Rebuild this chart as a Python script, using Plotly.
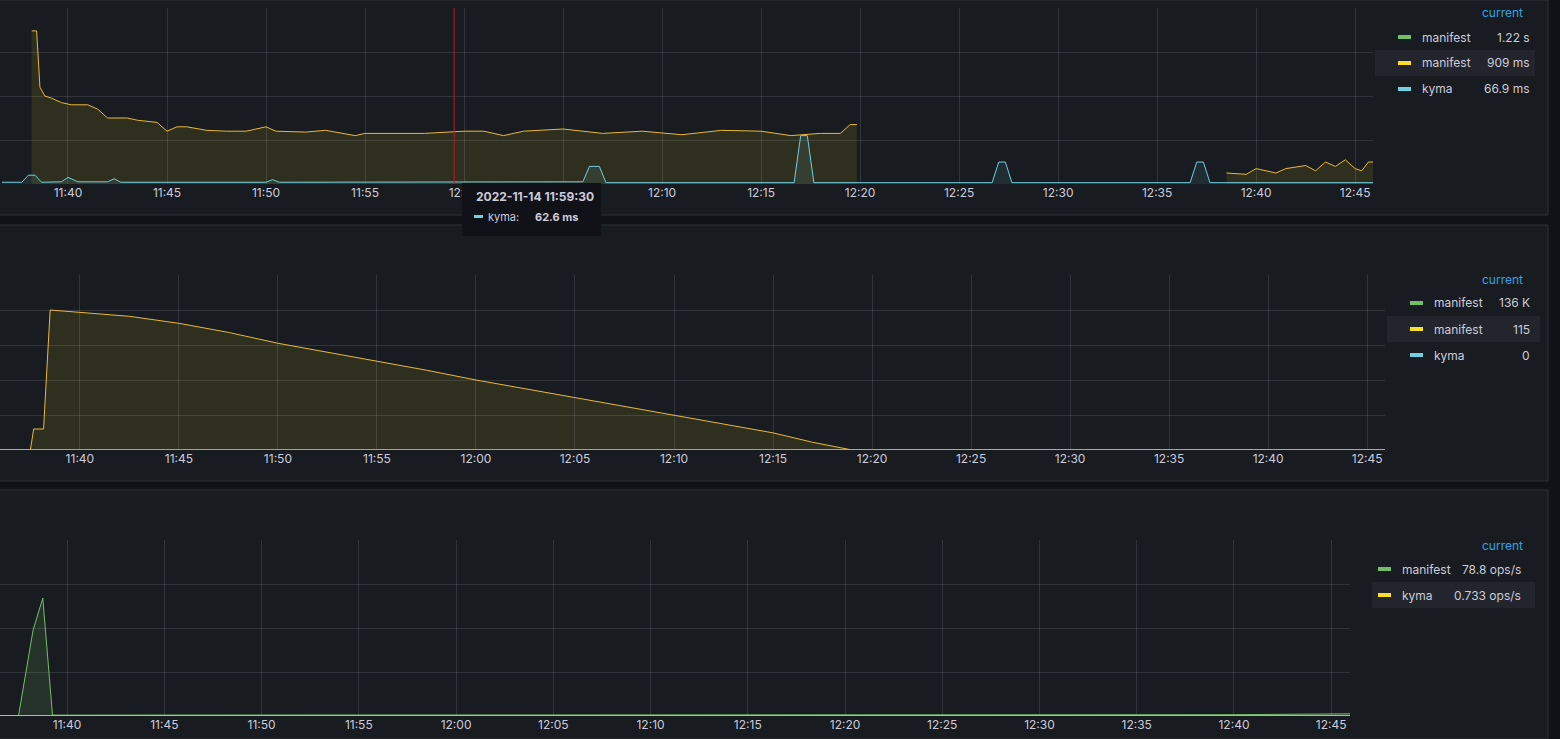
import plotly.graph_objects as go

W, H = 1560, 739
DAY = "2022-11-14 "

# ---- data (values in grid units) ----
lat_yellow_t = ["11:38:10", "11:38:25", "11:38:35", "11:38:50", "11:39:10", "11:39:40", "11:40:10", "11:41:00",
                "11:41:30", "11:42:00", "11:43:00", "11:43:30", "11:44:30", "11:45:00", "11:45:30", "11:46:00",
                "11:47:00", "11:48:00", "11:49:00", "11:50:00", "11:50:30", "11:52:00", "11:53:00", "11:54:30",
                "11:55:00", "11:58:00", "12:00:00", "12:01:00", "12:02:00", "12:03:00", "12:05:00", "12:07:00",
                "12:09:00", "12:11:00", "12:13:00", "12:15:00", "12:16:30", "12:18:00", "12:19:00", "12:19:30",
                "12:19:50"]
lat_yellow_v = [3.48, 3.48, 2.2, 2.0, 1.95, 1.85, 1.8, 1.8,
                1.7, 1.5, 1.5, 1.45, 1.4, 1.2, 1.3, 1.3,
                1.22, 1.2, 1.2, 1.3, 1.2, 1.18, 1.22, 1.1,
                1.15, 1.15, 1.2, 1.2, 1.1, 1.2, 1.25, 1.15,
                1.2, 1.12, 1.22, 1.2, 1.1, 1.15, 1.15, 1.35,
                1.35]
lat_yellow2_t = ["12:38:30", "12:39:30", "12:40:00", "12:41:00", "12:41:30", "12:42:30",
                 "12:43:00", "12:43:30", "12:44:00", "12:44:30", "12:45:00", "12:45:20", "12:45:40", "12:45:54"]
lat_yellow2_v = [0.25, 0.22, 0.35, 0.25, 0.35, 0.42,
                 0.3, 0.5, 0.4, 0.55, 0.35, 0.3, 0.5, 0.5]
lat_cyan_t = ["11:36:40", "11:37:40", "11:38:00", "11:38:20", "11:38:40", "11:39:40", "11:40:00", "11:40:30",
              "11:42:00", "11:42:20", "11:42:40", "11:50:00", "11:50:20", "11:50:40", "12:06:00", "12:06:20",
              "12:06:50", "12:07:10", "12:16:40", "12:17:00", "12:17:20", "12:17:40", "12:26:40", "12:27:00",
              "12:27:20", "12:27:40", "12:36:40", "12:37:00", "12:37:20", "12:37:40", "12:45:54"]
lat_cyan_v = [0.04, 0.04, 0.2, 0.2, 0.04, 0.05, 0.15, 0.05,
              0.05, 0.12, 0.04, 0.04, 0.1, 0.04, 0.05, 0.4,
              0.4, 0.03, 0.03, 1.1, 1.1, 0.03, 0.03, 0.5,
              0.5, 0.03, 0.03, 0.5, 0.5, 0.03, 0.03]

q_yellow_t = ["11:35:58", "11:37:30", "11:37:40", "11:38:10", "11:38:30", "11:40:00", "11:42:30", "11:45:00",
              "11:47:30", "11:50:00", "11:52:30", "11:55:00", "11:57:30", "12:00:00", "12:02:30", "12:05:00",
              "12:07:30", "12:10:00", "12:12:30", "12:15:00", "12:17:00", "12:19:00", "12:45:54"]
q_yellow_v = [0, 0, 0.6, 0.6, 4.0, 3.94, 3.82, 3.62, 3.36, 3.05, 2.8, 2.55, 2.28, 2.0, 1.75, 1.5,
              1.26, 1.0, 0.76, 0.49, 0.22, 0.0, 0]
q_cyan_t = ["11:35:58", "12:45:54"]
q_cyan_v = [0.01, 0.01]

ops_green_t = ["11:36:33", "11:37:30", "11:38:15", "11:38:45", "11:39:15", "12:40:00", "12:45:58"]
ops_green_v = [0, 0, 1.95, 2.68, 0.02, 0.03, 0.05]
ops_yellow_t = ["11:36:33", "12:45:58"]
ops_yellow_v = [0.01, 0.01]

legend1 = [("manifest", "1.22 s"), ("manifest", "909 ms"), ("kyma", "66.9 ms")]
legend2 = [("manifest", "136 K"), ("manifest", "115"), ("kyma", "0")]
legend3 = [("manifest", "78.8 ops/s"), ("kyma", "0.733 ops/s")]

GREEN, YELLOW, CYAN = "#73bf69", "#fade2a", "#6ed0e0"
YEL_LINE = "#eab839"
TXT = "#ccccdc"
GRID = "rgba(204,204,220,0.15)"


def px(x):
    return x / W


def py(y):
    return 1 - y / H


def ts(lst):
    return [DAY + t for t in lst]


fig = go.Figure()

panels = [
    dict(ax="", xr=1373, top=8, bot=184, rng=["11:36:34", "12:45:54"], ymax=4,
         pbox=(0, 215), leg=legend1, cols=[GREEN, YELLOW, CYAN], ly=13, lx=1398, hl0=1375, hl1=1535, vx=1532),
    dict(ax="2", xr=1385, top=275, bot=450, rng=["11:35:58", "12:45:54"], ymax=5,
         pbox=(225, 481), leg=legend2, cols=[GREEN, YELLOW, CYAN], ly=279, lx=1410, hl0=1387, hl1=1540, vx=1532),
    dict(ax="3", xr=1350, top=540, bot=716, rng=["11:36:33", "12:45:58"], ymax=4,
         pbox=(490, 739), leg=legend3, cols=[GREEN, YELLOW], ly=545, lx=1378, hl0=1372, hl1=1535, vx=1523),
]

shapes = []
annotations = []
for p in panels:
    shapes.append(dict(type="rect", xref="paper", yref="paper", x0=px(-10), x1=px(1548),
                       y0=py(p["pbox"][1]), y1=py(p["pbox"][0]), fillcolor="#181b1f",
                       line=dict(color="#2c3036", width=1), layer="below"))
    fig.layout["xaxis" + p["ax"]] = dict(
        domain=[0, px(p["xr"])], anchor="y" + p["ax"], type="date",
        range=[DAY + p["rng"][0], DAY + p["rng"][1]], dtick=300000, tickformat="%H:%M",
        showgrid=True, gridcolor=GRID, zeroline=False, showline=False,
        tickfont=dict(color=TXT, size=12, family="Inter"), ticks="", fixedrange=True)
    fig.layout["yaxis" + p["ax"]] = dict(
        domain=[py(p["bot"]), py(p["top"])], anchor="x" + p["ax"], range=[0, p["ymax"]],
        dtick=1, showgrid=True, gridcolor=GRID, zeroline=False, showticklabels=False,
        showline=False, fixedrange=True)
    annotations.append(dict(xref="paper", yref="paper", x=px(1525), y=py(p["ly"]), text="current",
                            showarrow=False, xanchor="right", yanchor="middle",
                            font=dict(color="#33a2e5", size=12, family="Inter")))
    for j, ((name, val), col) in enumerate(zip(p["leg"], p["cols"])):
        yy = p["ly"] + 24 + j * 26
        if j == 1:
            shapes.append(dict(type="rect", xref="paper", yref="paper", x0=px(p["hl0"]), x1=px(p["hl1"]),
                               y0=py(yy + 13), y1=py(yy - 13), fillcolor="#22252b", line=dict(width=0)))
        shapes.append(dict(type="rect", xref="paper", yref="paper", x0=px(p["lx"]), x1=px(p["lx"] + 13),
                           y0=py(yy + 2), y1=py(yy - 2), fillcolor=col, line=dict(width=0)))
        annotations.append(dict(xref="paper", yref="paper", x=px(p["lx"] + 22), y=py(yy), text=name,
                                showarrow=False, xanchor="left", yanchor="middle",
                                font=dict(color=TXT, size=12, family="Inter")))
        annotations.append(dict(xref="paper", yref="paper", x=px(p["vx"]), y=py(yy), text=val,
                                showarrow=False, xanchor="right", yanchor="middle",
                                font=dict(color=TXT, size=12, family="Inter")))


def series(t, v, col, line, ax, alpha=0.1):
    r, g, b = int(col[1:3], 16), int(col[3:5], 16), int(col[5:7], 16)
    fig.add_trace(go.Scatter(x=ts(t), y=v, mode="lines", line=dict(color=line, width=1),
                             fill="tozeroy", fillcolor=f"rgba({r},{g},{b},{alpha})",
                             xaxis="x" + ax, yaxis="y" + ax, hoverinfo="skip", showlegend=False))


series(lat_yellow_t, lat_yellow_v, YELLOW, YEL_LINE, "")
series(lat_yellow2_t, lat_yellow2_v, YELLOW, YEL_LINE, "")
series(lat_cyan_t, lat_cyan_v, CYAN, CYAN, "")
series(q_yellow_t, q_yellow_v, YELLOW, YEL_LINE, "2")
series(q_cyan_t, q_cyan_v, CYAN, CYAN, "2")
series(ops_green_t, ops_green_v, GREEN, GREEN, "3", alpha=0.15)
series(ops_yellow_t, ops_yellow_v, YELLOW, YEL_LINE, "3")

# crosshair + tooltip
shapes.append(dict(type="line", xref="x", yref="paper", x0=DAY + "11:59:30", x1=DAY + "11:59:30",
                   y0=py(184), y1=py(8), line=dict(color="#c4162a", width=1)))
shapes.append(dict(type="rect", xref="paper", yref="paper", x0=px(462), x1=px(601),
                   y0=py(236), y1=py(183), fillcolor="#111217", line=dict(width=0)))
shapes.append(dict(type="rect", xref="paper", yref="paper", x0=px(474), x1=px(483),
                   y0=py(218), y1=py(215), fillcolor=CYAN, line=dict(width=0)))
annotations += [
    dict(xref="paper", yref="paper", x=px(474), y=py(196), text="<b>2022-11-14 11:59:30</b>",
         showarrow=False, xanchor="left", yanchor="middle", font=dict(color=TXT, size=12, family="Inter")),
    dict(xref="paper", yref="paper", x=px(486), y=py(217), text="kyma:", showarrow=False,
         xanchor="left", yanchor="middle", font=dict(color=TXT, size=11, family="Inter")),
    dict(xref="paper", yref="paper", x=px(580), y=py(217), text="<b>62.6 ms</b>", showarrow=False,
         xanchor="right", yanchor="middle", font=dict(color=TXT, size=11, family="Inter")),
]

fig.update_layout(width=W, height=H, margin=dict(l=0, r=0, t=0, b=0),
                  paper_bgcolor="#111217", plot_bgcolor="rgba(0,0,0,0)",
                  shapes=shapes, annotations=annotations, showlegend=False)
fig.write_html("out.html", config={"displayModeBar": False},
               post_script="document.body.style.margin='0';document.body.style.background='#111217';")
